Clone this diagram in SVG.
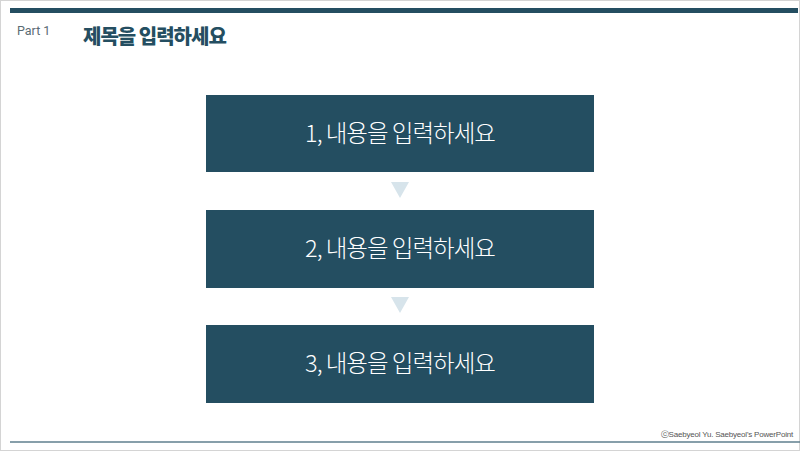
<svg xmlns="http://www.w3.org/2000/svg" width="800" height="451" viewBox="0 0 800 451">
<style>
.box{fill:#244e61}
.btxt{font-family:"Noto Sans CJK KR","Noto Sans",sans-serif;font-weight:300;font-size:23.5px;fill:#ffffff;text-anchor:middle;letter-spacing:-1px}
.tri{fill:#d7e4eb}
</style>
<rect x="0" y="0" width="800" height="451" fill="#ffffff"/>
<rect x="0.5" y="0.5" width="799" height="450" fill="none" stroke="#d4d4d4" stroke-width="1"/>
<rect x="10" y="8" width="788" height="5" fill="#244e61"/>
<text x="17" y="35" font-family="Roboto,'Noto Sans',sans-serif" font-size="12.5" fill="#5b6b74">Part 1</text>
<text x="83" y="44" font-family="'Noto Sans CJK KR',sans-serif" font-weight="900" font-size="20" fill="#244e61" letter-spacing="-1">제목을 입력하세요</text>
<g id="connectors">
<polygon class="tri" points="391,182 409,182 400,198"/>
<polygon class="tri" points="391,297 409,297 400,313"/>
</g>
<g id="node1">
<rect class="box" x="206" y="95" width="388" height="77"/>
<text class="btxt" x="400" y="142">1, 내용을 입력하세요</text>
</g>
<g id="node2">
<rect class="box" x="206" y="210" width="388" height="78"/>
<text class="btxt" x="400" y="257">2, 내용을 입력하세요</text>
</g>
<g id="node3">
<rect class="box" x="206" y="325" width="388" height="78"/>
<text class="btxt" x="400" y="372">3, 내용을 입력하세요</text>
</g>
<line x1="10" y1="442" x2="800" y2="442" stroke="#5f7f8e" stroke-width="1.3"/>
<text x="793" y="437" font-family="'Liberation Sans',Arial,sans-serif" font-size="8" letter-spacing="-0.2" fill="#555555" text-anchor="end">ⓒSaebyeol Yu.  Saebyeol's PowerPoint</text>
</svg>
